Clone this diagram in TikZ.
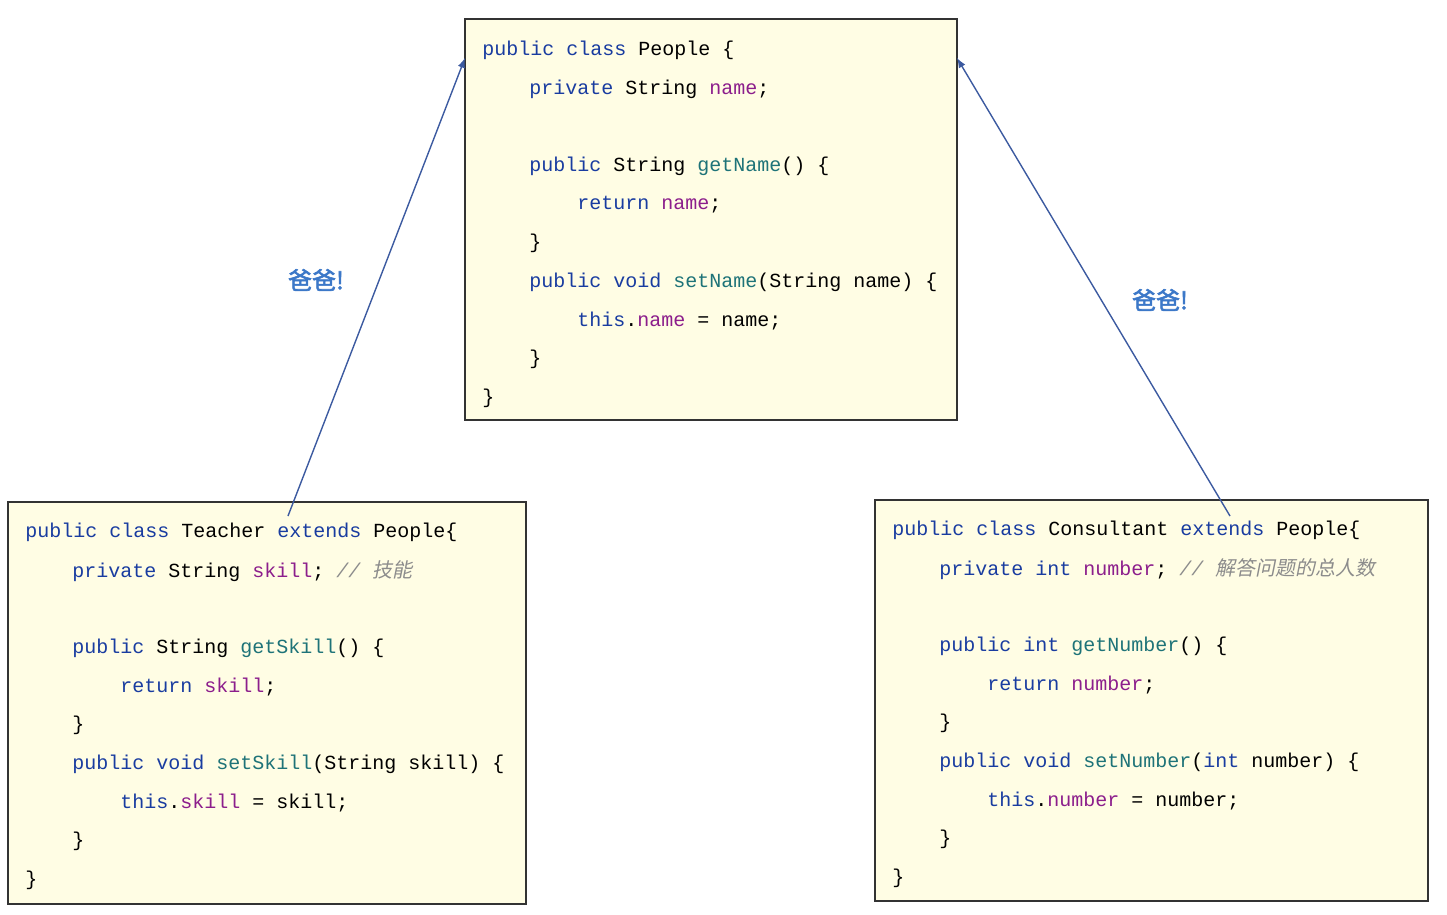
\documentclass[tikz,border=0pt]{standalone}
\usepackage{fontspec}
\setmonofont{Liberation Mono}
\newfontfamily\cjk{Noto Sans CJK SC}[FakeBold=2.5]
\newfontfamily\cjkit{Noto Sans CJK SC}[FakeSlant=0.2]
\definecolor{kwblue}{RGB}{25,60,160}
\definecolor{fdpurple}{RGB}{140,30,140}
\definecolor{mtgreen}{RGB}{30,115,120}
\definecolor{cmgray}{RGB}{140,140,140}
\definecolor{boxfill}{RGB}{255,253,228}
\definecolor{lblblue}{RGB}{60,120,200}
\definecolor{arrblue}{RGB}{60,90,160}
\newcommand{\kw}[1]{\textcolor{kwblue}{#1}}
\newcommand{\fd}[1]{\textcolor{fdpurple}{#1}}
\newcommand{\mt}[1]{\textcolor{mtgreen}{#1}}
\newcommand{\cmt}[1]{\textcolor{cmgray}{\itshape #1}}
\tikzset{
  codebox/.style={draw=black!80, fill=boxfill, line width=0.6pt},
  code/.style={anchor=west, inner sep=0, font=\ttfamily\fontsize{10}{10}\selectfont},
  dad/.style={text=lblblue, font=\cjk\fontsize{12}{12}\selectfont},
}
\begin{document}
\begin{tikzpicture}[x=0.5pt, y=-0.5pt, >=latex]
\useasboundingbox (0,0) rectangle (1447,915);
% boxes
\draw[codebox] (465,19) rectangle (957,420);
\draw[codebox] (8,502) rectangle (526,904);
\draw[codebox] (875,500) rectangle (1428,901);
% People
\node[code] (p1) at (482,50) {\kw{public} \kw{class} People \{};
\node[code] (p2) at (529,89) {\kw{private} String \fd{name};};
\node[code] (p3) at (529,166) {\kw{public} String \mt{getName}() \{};
\node[code] (p4) at (577,205) {\kw{return} \fd{name};};
\node[code] (p5) at (529,243) {\}};
\node[code] (p6) at (529,282) {\kw{public} \kw{void} \mt{setName}(String name) \{};
\node[code] (p7) at (577,321) {\kw{this}.\fd{name} = name;};
\node[code] (p8) at (529,359) {\}};
\node[code] (p9) at (482,398) {\}};
% Teacher
\node[code] (t1) at (25,532) {\kw{public} \kw{class} Teacher \kw{extends} People\{};
\node[code] (t2) at (72,571) {\kw{private} String \fd{skill};  \cmt{// {\cjkit 技能}}};
\node[code] (t3) at (72,648) {\kw{public} String \mt{getSkill}() \{};
\node[code] (t4) at (120,687) {\kw{return} \fd{skill};};
\node[code] (t5) at (72,725) {\}};
\node[code] (t6) at (72,764) {\kw{public} \kw{void} \mt{setSkill}(String skill) \{};
\node[code] (t7) at (120,803) {\kw{this}.\fd{skill} = skill;};
\node[code] (t8) at (72,841) {\}};
\node[code] (t9) at (25,880) {\}};
% Consultant
\node[code] (c1) at (892,530) {\kw{public} \kw{class} Consultant \kw{extends} People\{};
\node[code] (c2) at (939,569) {\kw{private} \kw{int} \fd{number};  \cmt{// {\cjkit 解答问题的总人数}}};
\node[code] (c3) at (939,646) {\kw{public} \kw{int} \mt{getNumber}() \{};
\node[code] (c4) at (987,685) {\kw{return} \fd{number};};
\node[code] (c5) at (939,723) {\}};
\node[code] (c6) at (939,762) {\kw{public} \kw{void} \mt{setNumber}(\kw{int} number) \{};
\node[code] (c7) at (987,801) {\kw{this}.\fd{number} = number;};
\node[code] (c8) at (939,839) {\}};
\node[code] (c9) at (892,878) {\}};
% arrows
\coordinate (tTop) at (288,516);
\coordinate (pLeft) at (465,58);
\coordinate (cTop) at (1230,516);
\coordinate (pRight) at (957,58);
\draw[->, arrblue, line width=0.7pt] (tTop) -- (pLeft);
\draw[->, arrblue, line width=0.7pt] (cTop) -- (pRight);
\node[dad] (dad1) at (316,280) {爸爸!};
\node[dad] (dad2) at (1160,300) {爸爸!};
\end{tikzpicture}
\end{document}
